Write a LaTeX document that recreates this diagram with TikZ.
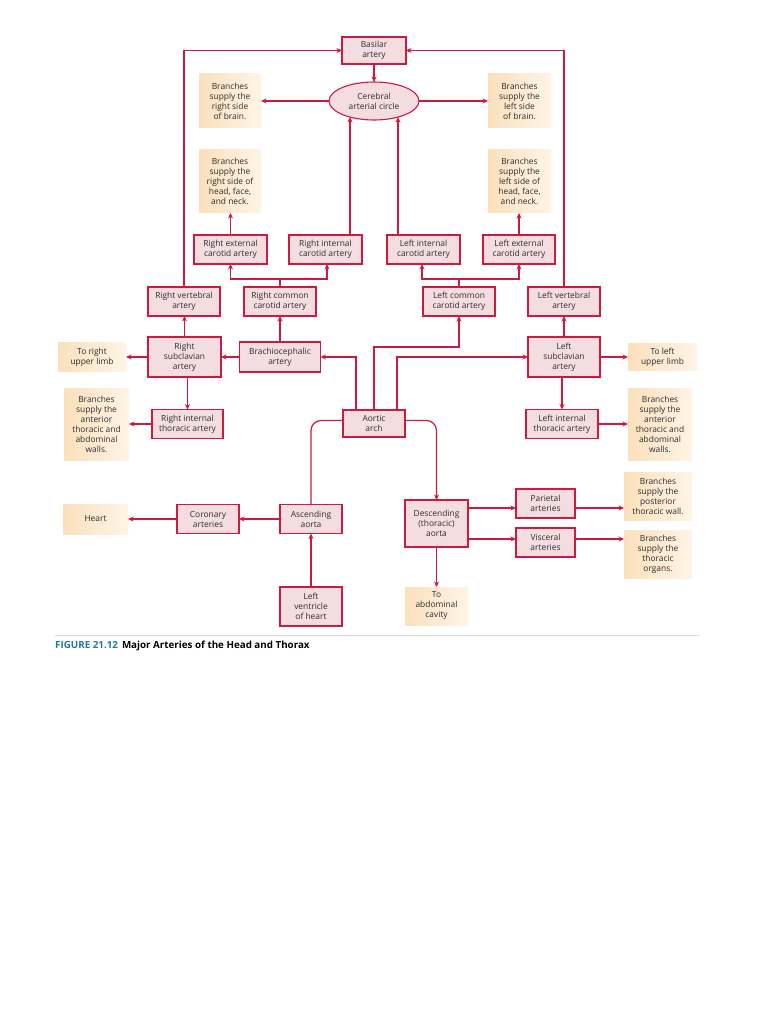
\documentclass[tikz,border=0pt]{standalone}
\usepackage{fontspec}
\setmainfont{Open Sans}
\usetikzlibrary{arrows.meta,shapes.geometric,calc}
\definecolor{crim}{HTML}{CE1A3E}
\definecolor{pinkf}{HTML}{F3DDE1}
\definecolor{yA}{HTML}{FBE0BC}
\definecolor{yB}{HTML}{FEF4E6}
\definecolor{txt}{HTML}{2E2E2E}
\definecolor{teal}{HTML}{1F7A9C}
\begin{document}
\begin{tikzpicture}[x=1pt,y=-1pt,
  sz/.style 2 args={minimum width=#1pt, minimum height=#2pt},
  base/.style={rectangle, inner sep=0pt, outer sep=0pt, align=center, text=txt,
    font=\fontsize{8.4}{10}\selectfont},
  pbox/.style={base, draw=crim, fill=pinkf, line width=1.1pt},
  tbox/.style={base, draw=crim, fill=pinkf, line width=1.7pt},
  ybox/.style={base, left color=yA, right color=yB},
  link/.style={draw=crim, line width=1.2pt},
  arr/.style={link, -{Stealth[length=5.5pt,width=5pt]}},
]
\useasboundingbox (0,0) rectangle (768,1024);
\fill[white] (0,0) rectangle (768,1024);

% top
\node[tbox, sz={64}{27}] (bas) at (374,50.5) {Basilar\\artery};
\node[base, ellipse, draw=crim, fill=pinkf, line width=1.1pt, sz={90}{38}] (cer) at (374,101) {Cerebral\\arterial circle};
\node[ybox, sz={62}{54}] (brr) at (230,101) {Branches\\supply the\\right side\\of brain.};
\node[ybox, sz={63}{54}] (brl) at (519.5,101) {Branches\\supply the\\left side\\of brain.};
\node[ybox, sz={62}{63}] (hdr) at (230,181.5) {Branches\\supply the\\right side of\\head, face,\\and neck.};
\node[ybox, sz={63}{63}] (hdl) at (519.5,181.5) {Branches\\supply the\\left side of\\head, face,\\and neck.};

% carotids
\node[pbox, sz={73}{29}] (rec) at (230.5,249.5) {Right external\\carotid artery};
\node[pbox, sz={73}{29}] (ric) at (325.5,249.5) {Right internal\\carotid artery};
\node[pbox, sz={73}{29}] (lic) at (423.5,249.5) {Left internal\\carotid artery};
\node[pbox, sz={72}{29}] (lec) at (519,249.5) {Left external\\carotid artery};

\node[pbox, sz={72}{29}] (rv) at (184,301.5) {Right vertebral\\artery};
\node[pbox, sz={72}{29}] (rcc) at (280,301.5) {Right common\\carotid artery};
\node[pbox, sz={72}{29}] (lcc) at (459,301.5) {Left common\\carotid artery};
\node[pbox, sz={72}{29}] (lv) at (564,301.5) {Left vertebral\\artery};

% subclavian row
\node[ybox, sz={68}{29}] (rul) at (92,357) {To right\\upper limb};
\node[pbox, sz={73}{40}] (rs) at (184.5,357) {Right\\subclavian\\artery};
\node[tbox, sz={81}{30}] (bra) at (280,357) {Brachiocephalic\\artery};
\node[tbox, sz={72}{40}] (ls) at (564,357) {Left\\subclavian\\artery};
\node[ybox, sz={69}{27}] (lul) at (662.5,357) {To left\\upper limb};

% thoracic row
\node[ybox, sz={65}{72}] (bar) at (96.5,424) {Branches\\supply the\\anterior\\thoracic and\\abdominal\\walls.};
\node[tbox, sz={71}{29}] (rit) at (187.5,424) {Right internal\\thoracic artery};
\node[pbox, sz={62}{27}] (ao) at (374,423.5) {Aortic\\arch};
\node[tbox, sz={72}{29}] (lit) at (562,424) {Left internal\\thoracic artery};
\node[ybox, sz={64}{72}] (bal) at (660,424) {Branches\\supply the\\anterior\\thoracic and\\abdominal\\walls.};

% lower part
\node[ybox, sz={65}{30}] (hrt) at (95.5,519) {Heart};
\node[tbox, sz={62}{29}] (cor) at (208,519) {Coronary\\arteries};
\node[tbox, sz={62}{29}] (asc) at (311,519) {Ascending\\aorta};
\node[tbox, sz={63}{47}] (des) at (436.5,523.5) {Descending\\(thoracic)\\aorta};
\node[pbox, sz={59}{29}] (par) at (545.5,503.5) {Parietal\\arteries};
\node[pbox, sz={59}{29}] (vis) at (545.5,542.5) {Visceral\\arteries};
\node[ybox, sz={68}{48}] (bpo) at (658,496) {Branches\\supply the\\posterior\\thoracic wall.};
\node[ybox, sz={68}{48}] (bor) at (658,554) {Branches\\supply the\\thoracic\\organs.};
\node[tbox, sz={62}{39}] (lve) at (311,606.5) {Left\\ventricle\\of heart};
\node[ybox, sz={63}{38}] (abd) at (436.5,606) {To\\abdominal\\cavity};

% connectors: top
\draw[arr] (rv.north) |- (bas.west);
\draw[arr] (lv.north) |- (bas.east);
\draw[arr] (bas.south) -- (cer.north);
\draw[arr] (cer.west) -- (cer.west -| brr.east);
\draw[arr] (cer.east) -- (cer.east -| brl.west);
\draw[arr] ([xshift=24.5pt]ric.north) -- ([xshift=24.5pt]ric.north |- cer.213.7);
\draw[arr] ([xshift=-25.5pt]lic.north) -- ([xshift=-25.5pt]lic.north |- cer.326.3);
\draw[arr] (rec.north) -- (rec.north |- hdr.south);
\draw[arr] (lec.north) -- (lec.north |- hdl.south);

% common carotid splits
\coordinate (rcj) at ([yshift=8pt]rcc.north);
\draw[link] (rcc.north) -- (rcj);
\draw[arr] (rcj) -| (rec.south);
\draw[arr] (rcj) -| ([xshift=1.5pt]ric.south);
\coordinate (lcj) at ([yshift=8pt]lcc.north);
\draw[link] (lcc.north) -- (lcj);
\draw[arr] (lcj) -| ([xshift=-1.5pt]lic.south);
\draw[arr] (lcj) -| (lec.south);

% subclavian region
\draw[arr] (bra.north) -- (rcc.south);
\draw[arr] (bra.west) -- (rs.east);
\draw[arr] (rs.west) -- (rul.east);
\draw[arr] (rs.north) -- (rs.north |- rv.south);
\draw[arr] (rit.north |- rs.south) -- (rit.north);
\draw[arr] (rit.west) -- (bar.east);
\draw[arr] (ls.north) -- (lv.south);
\draw[arr] (ls.east) -- (lul.west);
\draw[arr] (lit.north |- ls.south) -- (lit.north);
\draw[arr] (lit.east) -- (bal.west);

% aortic arch branches
\draw[arr] ([xshift=-18pt]ao.north) |- (bra.east);
\draw[arr] (ao.north) |- ([yshift=-31pt]lcc.south) -- (lcc.south);
\draw[arr] ([xshift=23pt]ao.north) |- (ls.west);
\draw[link, rounded corners=10pt] ([yshift=3pt]ao.west) -| (asc.north);
\draw[arr, rounded corners=10pt] ([yshift=3pt]ao.east) -| (des.north);

% lower connectors
\draw[arr] (asc.west) -- (cor.east);
\draw[arr] (cor.west) -- (hrt.east);
\draw[arr] (lve.north) -- (asc.south);
\draw[arr] (des.south) -- (abd.north);
\coordinate (pj) at ([yshift=-4.5pt]par.west);
\coordinate (vj) at ([yshift=3.5pt]vis.west);
\draw[arr] (pj -| des.east) -- (pj);
\draw[arr] (vj -| des.east) -- (vj);
\draw[arr] (pj -| par.east) -- (pj -| bpo.west);
\draw[arr] (vj -| vis.east) -- (vj -| bor.west);

% caption
\coordinate (s1) at (55,635);
\coordinate (s2) at (700,635);
\draw[black!15, line width=1pt] (s1) -- (s2);
\node[anchor=base west, inner sep=0pt, font=\bfseries\fontsize{9.8}{11}\selectfont] (cap) at (55,648)
  {\textcolor{teal}{FIGURE 21.12}\hspace{4pt}Major Arteries of the Head and Thorax};
\end{tikzpicture}
\end{document}
